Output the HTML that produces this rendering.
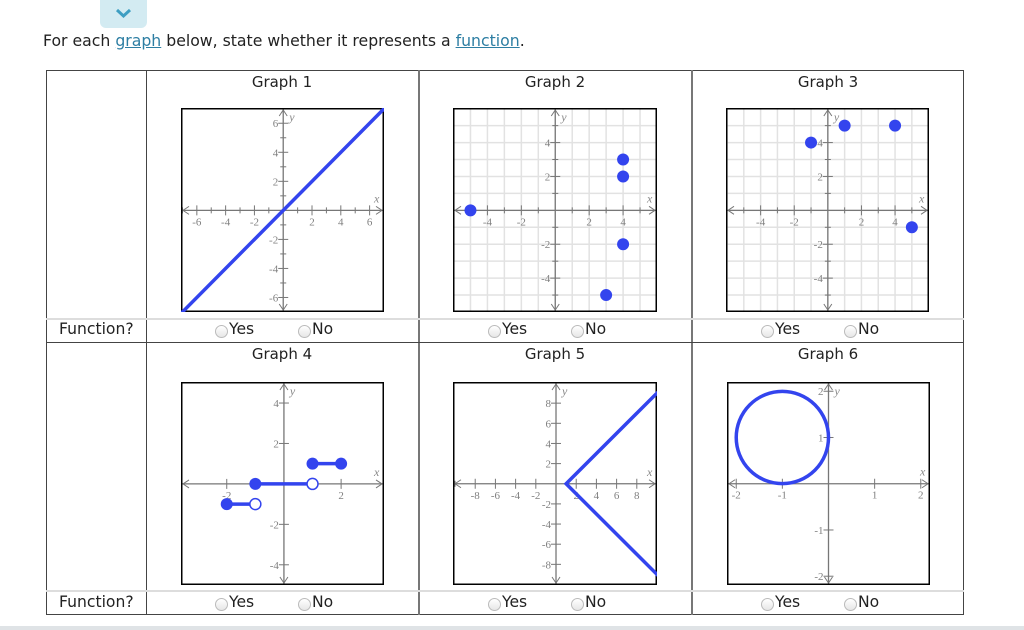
<!DOCTYPE html>
<html><head><meta charset="utf-8">
<style>
body{margin:0;width:1024px;height:630px;background:#fff;position:relative;overflow:hidden;font-family:"DejaVu Sans","Liberation Sans",sans-serif;color:#222}
.abs{position:absolute}
.hl{position:absolute;height:0}
.vl{position:absolute;width:0}
.hdr{position:absolute;width:272px;text-align:center;font-size:15px;top:73px}
.fn{position:absolute;left:59px;font-size:15.6px}
.radio{position:absolute;width:13px;height:13px;border-radius:50%;border:1px solid #bbb;background:linear-gradient(#fff,#e6e6e6);box-sizing:border-box}
.rl{position:absolute;font-size:15.6px}
svg.g{position:absolute;overflow:hidden}
</style></head><body>
<div class="abs" style="left:100px;top:0;width:47px;height:28px;background:#d3ebf2;border-radius:0 0 6px 6px">
<svg width="47" height="28"><polyline points="17,10 23.5,16 30,10" fill="none" stroke="#3d9ec2" stroke-width="3"/></svg></div>
<div class="abs" style="left:43px;top:31px;font-size:15.7px">For each <span style="color:#2d7ea3;text-decoration:underline">graph</span> below, state whether it represents a <span style="color:#2d7ea3;text-decoration:underline">function</span>.</div>

<div class="abs" style="left:46px;top:70px;width:918px;height:545px;border:1px solid #444;box-sizing:border-box"></div>
<div class="vl" style="left:146px;top:70px;height:545px;border-left:1px solid #444"></div>
<div class="vl" style="left:418px;top:70px;height:545px;border-left:2px solid #777"></div>
<div class="vl" style="left:691px;top:70px;height:545px;border-left:2px solid #777"></div>
<div class="hl" style="left:46px;top:318px;width:918px;border-top:2px solid #ddd"></div>
<div class="hl" style="left:46px;top:342px;width:918px;border-top:1px solid #444"></div>
<div class="hl" style="left:46px;top:590px;width:918px;border-top:2px solid #ddd"></div>
<div class="abs" style="left:0;top:626px;width:1024px;height:4px;background:#dfe3e6"></div>

<div class="hdr" style="left:146px">Graph 1</div>
<div class="hdr" style="left:419px">Graph 2</div>
<div class="hdr" style="left:692px">Graph 3</div>
<div class="hdr" style="left:146px;top:345px">Graph 4</div>
<div class="hdr" style="left:419px;top:345px">Graph 5</div>
<div class="hdr" style="left:692px;top:345px">Graph 6</div>
<div class="fn" style="top:320px">Function?</div>
<div class="fn" style="top:593px">Function?</div>
<div id="radios"></div>

<svg class="g" id="g1" style="left:181px;top:108px" width="203" height="204"></svg>
<svg class="g" id="g2" style="left:453px;top:108px" width="204" height="204"></svg>
<svg class="g" id="g3" style="left:726px;top:108px" width="203" height="204"></svg>
<svg class="g" id="g4" style="left:181px;top:382px" width="203" height="203"></svg>
<svg class="g" id="g5" style="left:453px;top:382px" width="204" height="203"></svg>
<svg class="g" id="g6" style="left:727px;top:382px" width="203" height="203"></svg>

<script>
// ---- data ----
const g1LineX=[-7.2,7.2];
const g1LineY=[-7.2,7.2];
const g1Labels=[-6,-4,-2,2,4,6];
const g2PointsX=[-5,4,4,4,3];
const g2PointsY=[0,3,2,-2,-5];
const g2Labels=[-4,-2,2,4];
const g3PointsX=[-1,1,4,5];
const g3PointsY=[4,5,5,-1];
const g3Labels=[-4,-2,2,4];
const g4SegX1=[-2,-1,1];
const g4SegX2=[-1,1,2];
const g4SegY=[-1,0,1];
const g4StartFilled=[true,true,true];
const g4EndFilled=[false,false,true];
const g4LabelsX=[-2,2];
const g4LabelsY=[-4,-2,2,4];
const g5Vertex=[1,0];
const g5EndsX=[10.5,10.5];
const g5EndsY=[9.5,-9.5];
const g5Labels=[-8,-6,-4,-2,2,4,6,8];
const g6Center=[-1,1];
const g6Radius=[1];
const g6Labels=[-2,-1,1,2];

const NS='http://www.w3.org/2000/svg';
function el(p,t,a){const e=document.createElementNS(NS,t);for(const k in a)e.setAttribute(k,a[k]);p.appendChild(e);return e;}
function graph(id,c){
  const s=document.getElementById(id);const W=+s.getAttribute('width'),H=+s.getAttribute('height');
  const X=x=>(x-c.xmin)/(c.xmax-c.xmin)*W, Y=y=>(c.ymax-y)/(c.ymax-c.ymin)*H;
  const ax={sx:X,sy:Y,svg:s};
  if(c.grid){for(let i=Math.ceil(c.xmin);i<=c.xmax;i++){const g=el(s,'line',{x1:X(i),x2:X(i),y1:0,y2:H,stroke:'#e2e2e2','stroke-width':1.5});}
    for(let i=Math.ceil(c.ymin);i<=c.ymax;i++){const g=el(s,'line',{x1:0,x2:W,y1:Y(i),y2:Y(i),stroke:'#e2e2e2','stroke-width':1.5});}}
  const col='#777';
  const xa=el(s,'line',{x1:1,x2:W-1,y1:Y(0),y2:Y(0),stroke:col,'stroke-width':1.3});
  
  const ya=el(s,'line',{x1:X(0),x2:X(0),y1:1,y2:H-1,stroke:col,'stroke-width':1.3});
  
  const y0=Y(0),x0=X(0);
  el(s,'polyline',{points:`${8},${y0-4} 2,${y0} ${8},${y0+4}`,fill:'none',stroke:col});
  el(s,'polyline',{points:`${W-8},${y0-4} ${W-2},${y0} ${W-8},${y0+4}`,fill:'none',stroke:col});
  el(s,'polyline',{points:`${x0-4},8 ${x0},2 ${x0+4},8`,fill:'none',stroke:col});
  el(s,'polyline',{points:`${x0-4},${H-8} ${x0},${H-2} ${x0+4},${H-8}`,fill:'none',stroke:col});
  const st=c.step;
  for(let i=Math.ceil(c.xmin/st)*st;i<=c.xmax;i+=st){if(Math.abs(i)<1e-9)continue;const big=c.lx.includes(i);el(s,'line',{x1:X(i),x2:X(i),y1:y0-(big?5:3),y2:y0+(big?5:3),stroke:col});}
  for(let i=Math.ceil(c.ymin/st)*st;i<=c.ymax;i+=st){if(Math.abs(i)<1e-9)continue;const big=c.ly.includes(i);el(s,'line',{x1:x0-(big?5:3),x2:x0+(big?5:3),y1:Y(i),y2:Y(i),stroke:col});}
  c.lx.forEach(v=>{const t=el(s,'text',{x:X(v),y:y0+15,'text-anchor':'middle','font-size':11,fill:'#808080','font-family':'Liberation Serif,serif'});t.textContent=v<0?'-'+(-v):v;});
  c.ly.forEach(v=>{const t=el(s,'text',{x:x0-5,y:Y(v)+4,'text-anchor':'end','font-size':11,fill:'#808080','font-family':'Liberation Serif,serif'});t.textContent=v<0?'-'+(-v):v;});
  const tx=el(s,'text',{x:W-10,y:y0-8,'font-size':12,'font-style':'italic',fill:'#888','font-family':'Liberation Serif,serif'});tx.textContent='x';
  
  const ty=el(s,'text',{x:x0+6,y:13,'font-size':12,'font-style':'italic',fill:'#888','font-family':'Liberation Serif,serif'});ty.textContent='y';
  
  el(s,'rect',{x:0.75,y:0.75,width:W-1.5,height:H-1.5,fill:'none',stroke:'#000','stroke-width':1.5});
  return ax;
}
const B='#3344ee';
function dot(a,x,y,filled){const d=el(a.svg,'circle',{cx:a.sx(x),cy:a.sy(y),r:filled?6:5.5,fill:filled?B:'#fff',stroke:B,'stroke-width':filled?0:1.5});}

let a=graph('g1',{xmin:-7.1,xmax:7,ymin:-7,ymax:7.05,step:1,lx:g1Labels,ly:g1Labels});
let ln=el(a.svg,'line',{x1:a.sx(g1LineX[0]),y1:a.sy(g1LineY[0]),x2:a.sx(g1LineX[1]),y2:a.sy(g1LineY[1]),stroke:B,'stroke-width':3.5});


a=graph('g2',{xmin:-6.03,xmax:6,ymin:-6,ymax:6.04,step:1,lx:g2Labels,ly:g2Labels,grid:true});
g2PointsX.forEach((x,i)=>dot(a,x,g2PointsY[i],true));

a=graph('g3',{xmin:-6.06,xmax:6.02,ymin:-6,ymax:6.04,step:1,lx:g3Labels,ly:g3Labels,grid:true});
g3PointsX.forEach((x,i)=>dot(a,x,g3PointsY[i],true));

a=graph('g4',{xmin:-3.6,xmax:3.5,ymin:-5,ymax:5.04,step:2,lx:g4LabelsX,ly:g4LabelsY});
g4SegX1.forEach((x,i)=>{const l=el(a.svg,'line',{x1:a.sx(x),x2:a.sx(g4SegX2[i]),y1:a.sy(g4SegY[i]),y2:a.sy(g4SegY[i]),stroke:B,'stroke-width':3.5});

dot(a,x,g4SegY[i],g4StartFilled[i]);dot(a,g4SegX2[i],g4SegY[i],g4EndFilled[i]);});

a=graph('g5',{xmin:-10.2,xmax:10,ymin:-10.05,ymax:10.1,step:2,lx:g5Labels,ly:g5Labels});
let pl=el(a.svg,'polyline',{points:`${a.sx(g5EndsX[0])},${a.sy(g5EndsY[0])} ${a.sx(g5Vertex[0])},${a.sy(g5Vertex[1])} ${a.sx(g5EndsX[1])},${a.sy(g5EndsY[1])}`,fill:'none',stroke:B,'stroke-width':3.5});


a=graph('g6',{xmin:-2.2,xmax:2.2,ymin:-2.19,ymax:2.2,step:1,lx:g6Labels,ly:g6Labels});
let ci=el(a.svg,'circle',{cx:a.sx(g6Center[0]),cy:a.sy(g6Center[1]),r:a.sx(g6Radius[0])-a.sx(0),fill:'none',stroke:B,'stroke-width':3.5});


// radios
const R=document.getElementById('radios');
[282,555,828].forEach((cx,ci2)=>[323,596].forEach((ty,ri)=>{
  const n=ri*3+ci2+1;
  [['yes',-67,'Yes'],['no',16,'No']].forEach(([k,dx,txt])=>{
    const r=document.createElement('div');r.className='radio';r.style.left=(cx+dx)+'px';r.style.top=(ty+2)+'px';
    
    R.appendChild(r);
    const l=document.createElement('div');l.className='rl';l.style.left=(cx+dx+14)+'px';l.style.top=(ty-3)+'px';l.textContent=txt;
    
    R.appendChild(l);
  });
}));
</script>
</body></html>
